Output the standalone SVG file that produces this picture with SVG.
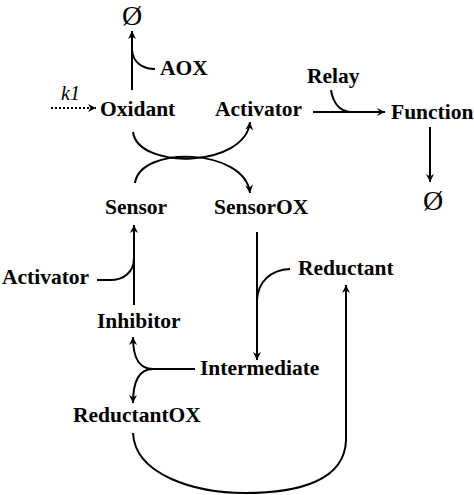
<svg xmlns="http://www.w3.org/2000/svg" width="474" height="495" viewBox="0 0 474 495">
<style>
.lbl{font-family:"Liberation Serif","Times New Roman",serif;font-weight:bold;font-size:21.5px;fill:#000}
.null{font-family:"Liberation Serif","Times New Roman",serif;font-size:28px;fill:#000}
.rate{font-family:"Liberation Serif","Times New Roman",serif;font-style:italic;font-size:20px;fill:#000}
.ln{fill:none;stroke:#000;stroke-width:2}
.arr{marker-end:url(#ah)}
.dot{stroke-dasharray:2,2}
</style>
<defs>
<marker id="ah" markerUnits="userSpaceOnUse" markerWidth="10" markerHeight="10" refX="9" refY="5" orient="auto">
<path d="M1,1 L9,5 L1,9 L3.5,5 Z" fill="#000"/>
</marker>
</defs>
<rect width="474" height="495" fill="#fff"/>
<g id="connectors">
<path class="ln arr" d="M132,90 V31"/>
<path class="ln" d="M132,50 C133,62 142,69 155,69"/>
<path class="ln arr dot" d="M51,108 H96"/>
<path class="ln arr" d="M313,112 H385"/>
<path class="ln" d="M331,90 C333,103 340,111 350,112"/>
<path class="ln arr" d="M430,127 V182"/>
<path class="ln arr" d="M133,132 C138,170 245,168 250,122"/>
<path class="ln arr" d="M135,183 C140,145 245,148 250,193"/>
<path class="ln arr" d="M134,305 V225"/>
<path class="ln" d="M97,280 H110 C124,280 134,272 134,258"/>
<path class="ln arr" d="M257,232 V360"/>
<path class="ln" d="M290,269 C270,270 258,282 257,300"/>
<path class="ln" d="M195,369 H153"/>
<path class="ln arr" d="M153,369 C140,369 133,360 133,337"/>
<path class="ln arr" d="M153,369 C140,369 133,380 133,403"/>
<path class="ln arr" d="M133,433 C135,475 195,493 245,493 C300,493 345,480 346,440 V285"/>
</g>
<g id="null-top"><text class="null" x="132" y="25" text-anchor="middle">Ø</text></g>
<g id="null-right"><text class="null" x="433" y="210" text-anchor="middle">Ø</text></g>
<g id="aox"><text class="lbl" x="160" y="75">AOX</text></g>
<g id="k1"><text class="rate" x="61" y="100">k1</text></g>
<g id="oxidant"><text class="lbl" x="100" y="116">Oxidant</text></g>
<g id="activator-top"><text class="lbl" x="215" y="116">Activator</text></g>
<g id="relay"><text class="lbl" x="307" y="83">Relay</text></g>
<g id="function"><text class="lbl" x="391" y="119">Function</text></g>
<g id="sensor"><text class="lbl" x="105" y="214">Sensor</text></g>
<g id="sensorox"><text class="lbl" x="214" y="214">SensorOX</text></g>
<g id="activator-left"><text class="lbl" x="2" y="284">Activator</text></g>
<g id="reductant"><text class="lbl" x="298" y="275">Reductant</text></g>
<g id="inhibitor"><text class="lbl" x="97" y="328">Inhibitor</text></g>
<g id="intermediate"><text class="lbl" x="200" y="375">Intermediate</text></g>
<g id="reductantox"><text class="lbl" x="73" y="422">ReductantOX</text></g>
</svg>
